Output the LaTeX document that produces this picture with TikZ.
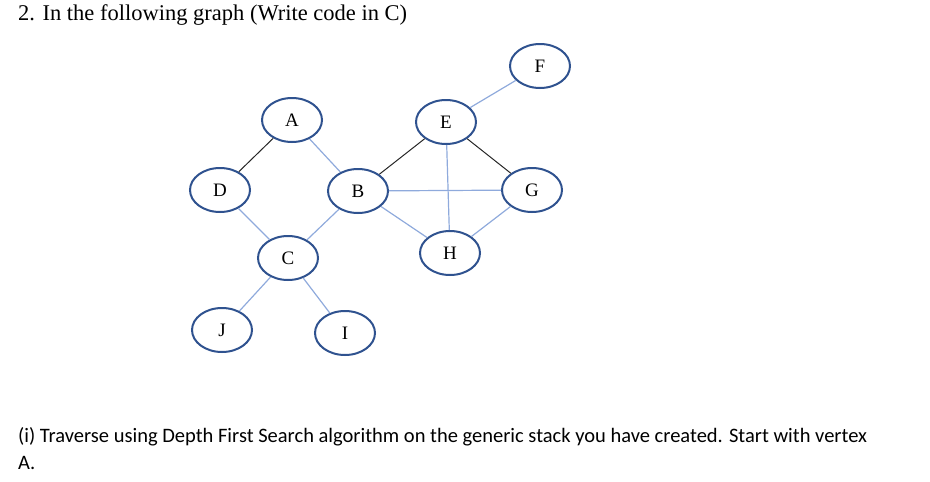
\documentclass[tikz,border=0pt]{standalone}
\usepackage{fontspec}
\setmainfont{Liberation Serif}
\newfontfamily\bodyfont{Carlito}
\usetikzlibrary{shapes.geometric}
\definecolor{ring}{HTML}{2F528F}
\definecolor{edgeblue}{HTML}{8FAADC}
\begin{document}
\begin{tikzpicture}[x=1pt, y=-1pt,
    vertex/.style={ellipse, draw=ring, line width=2pt, minimum width=60pt, minimum height=44pt, inner sep=0pt, font=\fontsize{19}{21}\selectfont},
    blueedge/.style={draw=edgeblue, line width=1.2pt},
    darkedge/.style={draw=black!85, line width=1pt}]
    \useasboundingbox (0,0) rectangle (930,482);
    % Title
    \node[anchor=west, inner sep=0pt, font=\fontsize{22.5}{26}\selectfont] (title) at (18,15) {2. In the following graph (Write code in C)};

    % Vertices
    \node[vertex] (F) at (540,66) {F};
    \node[vertex] (A) at (292,120) {A};
    \node[vertex] (E) at (446,122) {E};
    \node[vertex] (D) at (220,190) {D};
    \node[vertex] (B) at (358,191) {B};
    \node[vertex] (G) at (532,190) {G};
    \node[vertex] (C) at (288,258) {C};
    \node[vertex] (H) at (450,253) {H};
    \node[vertex] (J) at (222,330) {J};
    \node[vertex] (I) at (345,333) {I};

    % Edges
    \draw[darkedge] (A) -- (D);
    \draw[darkedge] (B) -- (E);
    \draw[darkedge] (E) -- (G);
    \draw[blueedge] (A) -- (B);
    \draw[blueedge] (D) -- (C);
    \draw[blueedge] (C) -- (B);
    \draw[blueedge] (C) -- (J);
    \draw[blueedge] (C) -- (I);
    \draw[blueedge] (E) -- (F);
    \draw[blueedge] (E) -- (H);
    \draw[blueedge] (B) -- (G);
    \draw[blueedge] (B) -- (H);
    \draw[blueedge] (H) -- (G);

    % Question
    \node[anchor=west, inner sep=0pt, font=\bodyfont\fontsize{20.5}{24}\selectfont] (question) at (18,437) {(i) Traverse using Depth First Search algorithm on the generic stack you have created. Start with vertex};
    \node[anchor=west, inner sep=0pt, font=\bodyfont\fontsize{20.5}{24}\selectfont] (question2) at (18,463) {A.};
\end{tikzpicture}
\end{document}
